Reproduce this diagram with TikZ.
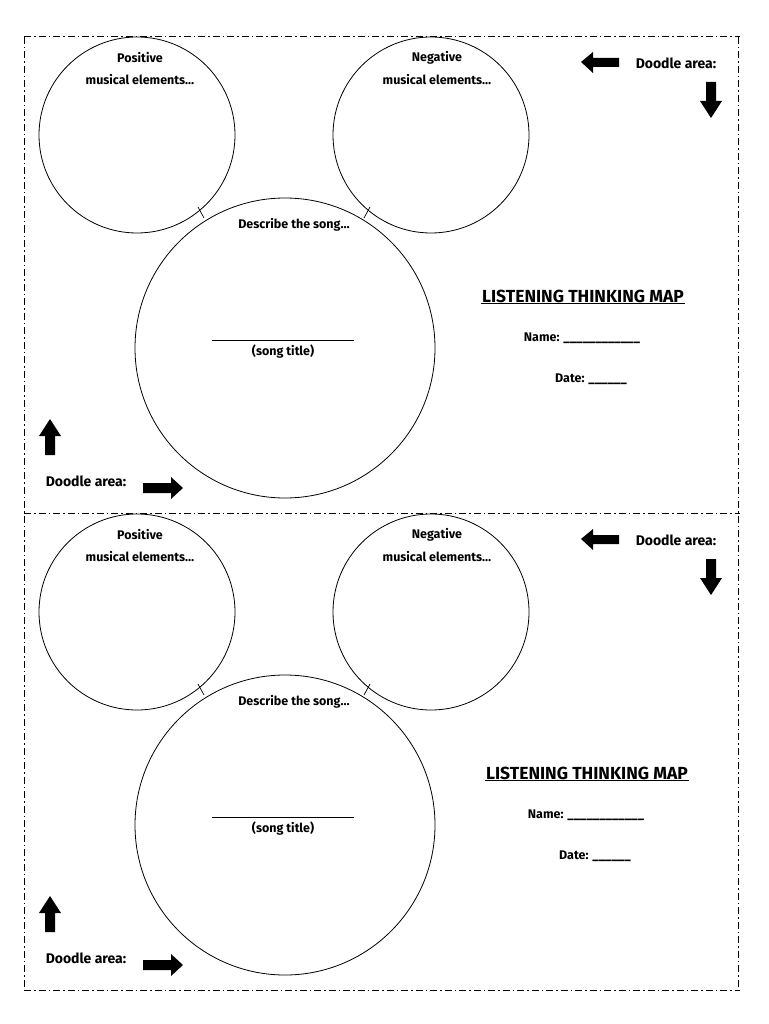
\documentclass[tikz,border=0pt]{standalone}
\usepackage{fontspec}
\setmainfont{Fira Sans}
\begin{document}
\begin{tikzpicture}[x=1pt,y=-1pt,
  lbl/.style={font=\fontsize{12.5}{13}\selectfont\bfseries, inner sep=0pt},
  big/.style={font=\fontsize{14}{15}\selectfont\bfseries, inner sep=0pt},
  ttl/.style={font=\fontsize{17.5}{18}\selectfont\bfseries, inner sep=1pt},
  circ/.style={draw, circle, line width=0.8pt, inner sep=0pt},
  brd/.style={line width=1pt, dash pattern=on 7pt off 3pt on 1.5pt off 3pt},
  arr/.style={fill=black}]
\useasboundingbox (0,0) rectangle (768,1024);
\draw[brd] (24,37) -- (740,37);
\draw[brd] (24,513) -- (740,513);
\draw[brd] (24,990) -- (740,990);
\draw[brd] (24,37) -- (24,990);
\draw[brd] (738,37) -- (738,990);
\foreach \i/\dy/\dx in {a/0/0, b/477/4}{
\begin{scope}[yshift=-\dy pt]
  \node[circ, minimum size=196pt] (L\i) at (137,135) {};
  \node[circ, minimum size=196pt] (R\i) at (431,135) {};
  \node[circ, minimum size=300pt] (C\i) at (285,348) {};
  \draw[line width=0.7pt] (198,207) -- (204,218);
  \draw[line width=0.7pt] (370,207) -- (364,218);
  \node[lbl] (p1\i) at (140,58) {Positive};
  \node[lbl] (p2\i) at (140,80) {musical elements…};
  \node[lbl] (n1\i) at (437,58) {Negative};
  \node[lbl] (n2\i) at (437,80) {musical elements…};
  \node[lbl] (d\i) at (294,225) {Describe the song…};
  \draw[line width=0.7pt] (212,340) -- (354,340);
  \node[lbl] (s\i) at (283,352) {(song title)};
  \begin{scope}[xshift=\dx pt]
  \node[ttl] (t\i) at (583,296) {LISTENING THINKING MAP};
  \draw[line width=0.8pt] (t\i.south west) -- (t\i.south east);
  \node[lbl] (nm\i) at (582,338) {Name: \_\_\_\_\_\_\_\_\_\_\_\_};
  \node[lbl] (dt\i) at (591,379) {Date: \_\_\_\_\_\_};
  \end{scope}
  \node[big] (da\i) at (676,63) {Doodle area:};
  \fill[arr] (581,62) -- (593,52) -- (593,58) -- (619,58) -- (619,67) -- (593,67) -- (593,73) -- cycle;
  \fill[arr] (711,118) -- (700,101) -- (706,101) -- (706,82) -- (716,82) -- (716,101) -- (722,101) -- cycle;
  \fill[arr] (50,419) -- (39,436) -- (45,436) -- (45,455) -- (55,455) -- (55,436) -- (61,436) -- cycle;
  \node[big] (db\i) at (86,481) {Doodle area:};
  \fill[arr] (183,488) -- (171,477) -- (171,483) -- (143,483) -- (143,493) -- (171,493) -- (171,499) -- cycle;
\end{scope}}
\end{tikzpicture}
\end{document}
